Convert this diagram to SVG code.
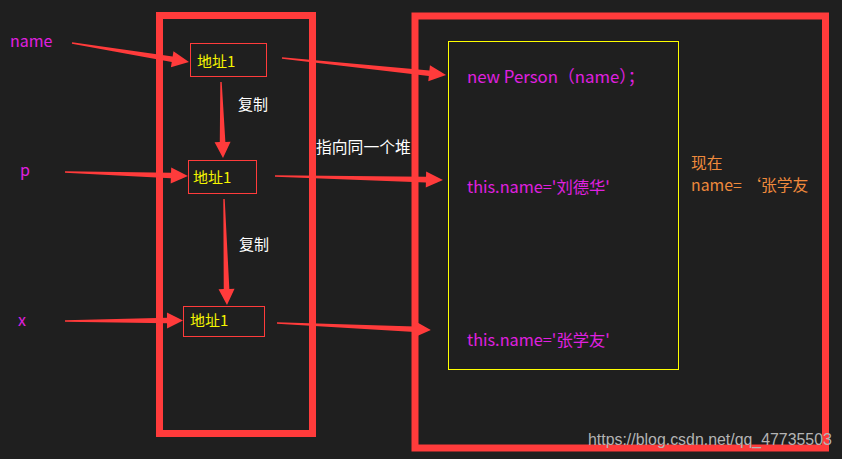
<svg xmlns="http://www.w3.org/2000/svg" width="842" height="459" viewBox="0 0 842 459">
<style>
.bg{fill:#1f1f1f}
.frame{fill:none;stroke:#ff3b3b;stroke-width:7}
.box{fill:none;stroke:#ff3b3b;stroke-width:1}
.heap{fill:none;stroke:#ffff00;stroke-width:1}
.arr{fill:#ff3b3b}
text{font-family:"Noto Sans CJK SC","Noto Sans",sans-serif}
.addr{fill:#f5f500;font-size:15px}
.var{fill:#e020e0;font-size:16px}
.code{fill:#e020e0;font-size:16.3px}
.note{fill:#ffffff;font-size:15px}
.orange{fill:#ef8a3c;font-size:15.8px}
.wm{fill:#b4b4b4;font-size:15.9px;font-family:"Liberation Sans",Arial,sans-serif}
</style>
<rect class="bg" x="0" y="0" width="842" height="459"/>
<g id="stack">
<rect class="frame" x="159.5" y="15.5" width="153" height="418"/>
</g>
<g id="heapFrame">
<rect class="frame" x="415" y="16" width="410.5" height="432"/>
</g>
<g id="heap">
<rect class="heap" x="448.5" y="41.5" width="230" height="328"/>
<text class="code" x="467" y="83" style="font-size:16.8px">new Person（name）；</text>
<text class="code" x="467" y="193">this.name='刘德华'</text>
<text class="code" x="467" y="346">this.name='张学友'</text>
</g>
<g id="note-now">
<text class="orange" x="691" y="169">现在</text>
<text class="orange" x="691" y="191">name= ‘张学友</text>
</g>
<g id="var-name"><text class="var" x="10" y="47">name</text></g>
<g id="var-p"><text class="var" x="20" y="176">p</text></g>
<g id="var-x"><text class="var" x="18" y="326">x</text></g>
<g id="addr1"><rect class="box" x="190.5" y="43.5" width="76" height="33"/><text class="addr" x="197" y="67">地址1</text></g>
<g id="addr2"><rect class="box" x="188.5" y="160.5" width="68" height="33"/><text class="addr" x="193" y="183">地址1</text></g>
<g id="addr3"><rect class="box" x="183.5" y="306.5" width="81" height="30"/><text class="addr" x="190" y="326">地址1</text></g>
<g id="labels">
<text class="note" x="238" y="110">复制</text>
<text class="note" x="239" y="250">复制</text>
<text class="note" x="316" y="153" style="font-size:15.8px">指向同一个堆</text>
</g>
<g id="connectors">
<path class="arr" transform="translate(72,43) rotate(9.22)" d="M0,-0.7 L101.5,-2.8 L101.5,-8 L118.5,0 L101.5,8 L101.5,2.8 L0,0.7 Z"/>
<path class="arr" transform="translate(282,58) rotate(5.92)" d="M0,-0.7 L147.9,-2.8 L147.9,-8 L164.9,0 L147.9,8 L147.9,2.8 L0,0.7 Z"/>
<path class="arr" transform="translate(221,82) rotate(88.49)" d="M0,-0.7 L60,-2.8 L60,-8 L76,0 L60,8 L60,2.8 L0,0.7 Z"/>
<path class="arr" transform="translate(65,172) rotate(1.86)" d="M0,-0.7 L106,-2.8 L106,-8 L123,0 L106,8 L106,2.8 L0,0.7 Z"/>
<path class="arr" transform="translate(275,176) rotate(1.36)" d="M0,-0.7 L151,-2.8 L151,-8 L168,0 L151,8 L151,2.8 L0,0.7 Z"/>
<path class="arr" transform="translate(224,199) rotate(88.38)" d="M0,-0.7 L90,-2.8 L90,-8 L106,0 L90,8 L90,2.8 L0,0.7 Z"/>
<path class="arr" transform="translate(65,321) rotate(-0.3)" d="M0,-0.7 L102,-2.8 L102,-8 L118,0 L102,8 L102,2.8 L0,0.7 Z"/>
<path class="arr" transform="translate(277,323) rotate(2.6)" d="M0,-0.7 L138,-2.8 L138,-8 L154,0 L138,8 L138,2.8 L0,0.7 Z"/>
</g>
<text class="wm" x="588" y="445">https://blog.csdn.net/qq_47735503</text>
</svg>
